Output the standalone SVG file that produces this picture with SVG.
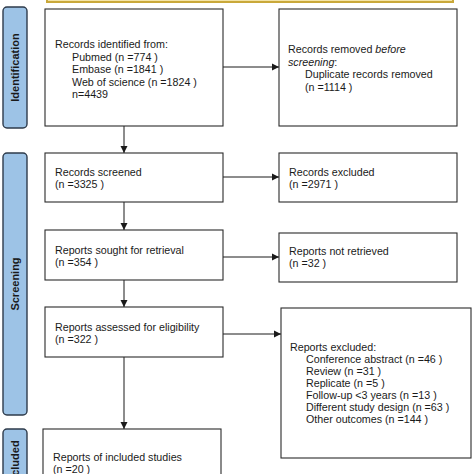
<svg xmlns="http://www.w3.org/2000/svg" width="474" height="474" viewBox="0 0 474 474">
<style>
.box{fill:#fff;stroke:#2b2b2b;stroke-width:1.1}
.side{fill:#9dc3e6;stroke:#2e3b4b;stroke-width:1.4}
.t{font-family:"Liberation Sans",Arial,sans-serif;font-size:10.7px;fill:#1a1a1a}
.s{font-family:"Liberation Sans",Arial,sans-serif;font-size:11px;font-weight:bold;fill:#1a1a1a}
.c{stroke:#1a1a1a;stroke-width:1;fill:none;marker-end:url(#ah)}
</style>
<defs>
<marker id="ah" markerWidth="8" markerHeight="8" refX="7" refY="4" orient="auto" markerUnits="userSpaceOnUse">
<path d="M0,0.5 L7,4 L0,7.5 Z" fill="#1a1a1a"/>
</marker>
</defs>
<rect x="0" y="0" width="474" height="474" fill="#fff"/>
<g id="header"><rect x="47" y="-20" width="406" height="22" fill="#f3e3a6" stroke="#c9a83a" stroke-width="2"/></g>
<g id="label-identification"><rect class="side" x="3" y="7" width="24" height="121" rx="4"/><text class="s" transform="translate(19,67.5) rotate(-90)" text-anchor="middle">Identification</text></g>
<g id="label-screening"><rect class="side" x="3" y="153" width="24" height="262" rx="4"/><text class="s" transform="translate(19,284) rotate(-90)" text-anchor="middle">Screening</text></g>
<g id="label-included"><rect class="side" x="3" y="429" width="24" height="70" rx="4"/><text class="s" transform="translate(19,463) rotate(-90)" text-anchor="middle">Included</text></g>
<g id="connectors">
<line class="c" x1="223" y1="67" x2="279" y2="67"/>
<line class="c" x1="124" y1="126" x2="124" y2="153"/>
<line class="c" x1="223" y1="177" x2="279" y2="177"/>
<line class="c" x1="124" y1="202" x2="124" y2="230"/>
<line class="c" x1="223" y1="257" x2="279" y2="257"/>
<line class="c" x1="124" y1="280" x2="124" y2="307"/>
<line class="c" x1="223" y1="334" x2="281" y2="334"/>
<line class="c" x1="124" y1="357" x2="124" y2="429"/>
</g>
<g id="identified"><rect class="box" x="45" y="9" width="178" height="117"/>
<text class="t" x="55" y="48">Records identified from:</text>
<text class="t" x="72" y="60.5">Pubmed (n =774 )</text>
<text class="t" x="72" y="73">Embase (n =1841 )</text>
<text class="t" x="72" y="85.5">Web of science (n =1824 )</text>
<text class="t" x="72" y="97.5">n=4439</text></g>
<g id="removed"><rect class="box" x="279" y="9" width="178" height="117"/>
<text class="t" x="288" y="53">Records removed <tspan font-style="italic">before</tspan></text>
<text class="t" x="288" y="65.5"><tspan font-style="italic">screening</tspan>:</text>
<text class="t" x="305" y="78">Duplicate records removed</text>
<text class="t" x="305" y="90.5">(n =1114 )</text></g>
<g id="screened"><rect class="box" x="45" y="153" width="178" height="49"/>
<text class="t" x="55" y="175.5">Records screened</text>
<text class="t" x="55" y="188">(n =3325 )</text></g>
<g id="excluded"><rect class="box" x="279" y="153" width="178" height="49"/>
<text class="t" x="289" y="175.5">Records excluded</text>
<text class="t" x="289" y="188">(n =2971 )</text></g>
<g id="sought"><rect class="box" x="45" y="230" width="178" height="50"/>
<text class="t" x="55" y="253.5">Reports sought for retrieval</text>
<text class="t" x="55" y="266">(n =354 )</text></g>
<g id="notretrieved"><rect class="box" x="279" y="233" width="178" height="49"/>
<text class="t" x="289" y="254.5">Reports not retrieved</text>
<text class="t" x="289" y="267">(n =32 )</text></g>
<g id="assessed"><rect class="box" x="45" y="307" width="178" height="50"/>
<text class="t" x="55" y="330.5">Reports assessed for eligibility</text>
<text class="t" x="55" y="343">(n =322 )</text></g>
<g id="reportsexcluded"><rect class="box" x="281" y="308" width="190" height="150"/>
<text class="t" x="290" y="350.5">Reports excluded:</text>
<text class="t" x="306" y="362.5">Conference abstract  (n =46 )</text>
<text class="t" x="306" y="374.5">Review (n =31 )</text>
<text class="t" x="306" y="386.5">Replicate (n =5 )</text>
<text class="t" x="306" y="398.5">Follow-up &lt;3 years (n =13 )</text>
<text class="t" x="306" y="410.5">Different study design (n =63 )</text>
<text class="t" x="306" y="422.5">Other outcomes (n =144 )</text></g>
<g id="included"><rect class="box" x="43" y="429" width="178" height="70"/>
<text class="t" x="53" y="460.5">Reports of included studies</text>
<text class="t" x="53" y="473">(n =20 )</text></g>
</svg>
